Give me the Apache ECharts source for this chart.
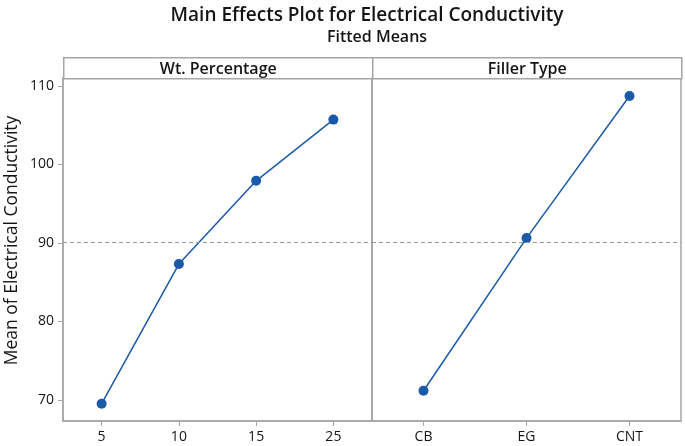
<!DOCTYPE html>
<html><head><meta charset="utf-8">
<script src="https://cdn.jsdelivr.net/npm/echarts@6/dist/echarts.min.js"></script>
<style>html,body{margin:0;padding:0;background:#fff}#c{width:685px;height:446px}</style>
</head><body><div id="c"></div>
<script>
const wtCategories = ['5', '10', '15', '25'];
const wtMeans = [69.5, 87.3, 97.9, 105.7];
const fillerCategories = ['CB', 'EG', 'CNT'];
const fillerMeans = [71.15, 90.6, 108.7];
const grandMean = 90.1;
const yTicks = [70, 80, 90, 100, 110];
const panelTitles = ['Wt. Percentage', 'Filler Type'];

const FONT = '"Open Sans", "Noto Sans", sans-serif';
const L = 63, W = 309, TOP = 78, H = 343, STRIP = 21;
const lineColor = '#1a5aa8';
const frame = '#a6a6a6';
const ink = '#151515';

const chart = echarts.init(document.getElementById('c'));
function yAxis(i, labels) {
  return {
    type: 'value', gridIndex: i, min: 67.3, max: 111,
    axisLine: { show: true, lineStyle: { color: frame, width: 1.5 } },
    axisTick: { show: labels, length: 5, lineStyle: { color: frame }, customValues: yTicks },
    axisLabel: { show: labels, customValues: yTicks, color: ink, fontSize: 14, fontFamily: FONT, margin: 9 },
    splitLine: { show: false },
    name: labels ? 'Mean of Electrical Conductivity' : '',
    nameLocation: 'middle', nameGap: 42, nameRotate: 90,
    nameTextStyle: { color: ink, fontSize: 17.5, fontFamily: FONT, padding: [0, 0, 0, 18] }
  };
}
function xAxis(i, cats) {
  return {
    type: 'category', gridIndex: i, data: cats, boundaryGap: true,
    axisLine: { show: true, lineStyle: { color: frame, width: 1.5 } },
    axisTick: { show: true, alignWithLabel: true, length: 5, lineStyle: { color: frame } },
    axisLabel: { color: ink, fontSize: 14, fontFamily: FONT, margin: 9 },
    splitLine: { show: false }
  };
}
function series(i, data) {
  return {
    type: 'line', xAxisIndex: i, yAxisIndex: i, data: data,
    symbol: 'circle', symbolSize: 10, showSymbol: true,
    lineStyle: { color: lineColor, width: 1.5 },
    itemStyle: { color: lineColor },
    animation: false,
    markLine: {
      silent: true, symbol: ['none', 'none'], label: { show: false },
      lineStyle: { color: '#999', type: [4, 3], width: 1 },
      data: [{ yAxis: grandMean }]
    }
  };
}
chart.setOption({
  animation: false,
  title: [
    { text: 'Main Effects Plot for Electrical Conductivity', left: 362, top: 1, textAlign: 'center',
      textStyle: { fontSize: 19, fontWeight: 600, color: ink, fontFamily: FONT } },
    { text: 'Fitted Means', left: 372, top: 24, textAlign: 'center',
      textStyle: { fontSize: 16, fontWeight: 600, color: ink, fontFamily: FONT } }
  ],
  grid: [
    { left: L, top: TOP, width: W, height: H, show: true, borderColor: frame, borderWidth: 1.5, outerBoundsMode: 'none', containLabel: false },
    { left: L + W, top: TOP, width: W, height: H, show: true, borderColor: frame, borderWidth: 1.5, outerBoundsMode: 'none', containLabel: false }
  ],
  xAxis: [xAxis(0, wtCategories), xAxis(1, fillerCategories)],
  yAxis: [yAxis(0, true), yAxis(1, false)],
  series: [series(0, wtMeans), series(1, fillerMeans)],
  graphic: [0, 1].map(i => ({
    type: 'group', left: L + W * i, top: TOP - STRIP,
    children: [
      { type: 'rect', shape: { x: 0, y: 0, width: W, height: STRIP },
        style: { fill: '#fff', stroke: frame, lineWidth: 1.5 } },
      { type: 'text', x: W / 2, y: STRIP / 2 + 1,
        style: { text: panelTitles[i], align: 'center', verticalAlign: 'middle',
                 fontSize: 16, fontWeight: 600, fill: ink, fontFamily: FONT } }
    ]
  }))
});
</script></body></html>
